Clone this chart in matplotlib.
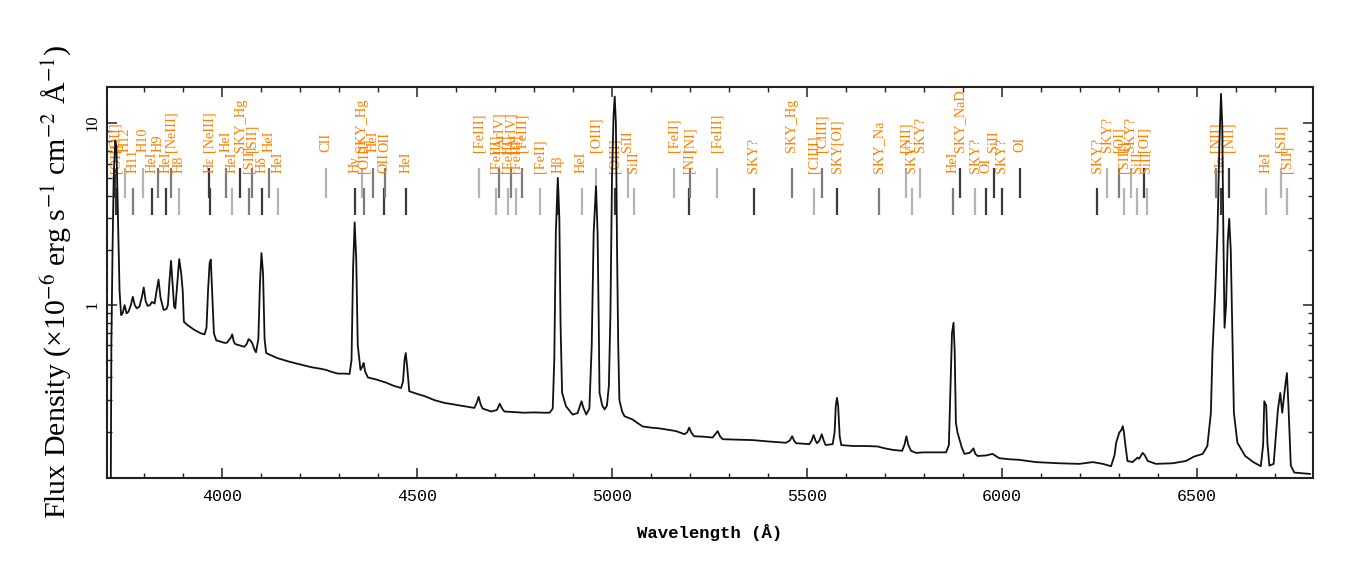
import matplotlib
matplotlib.use("Agg")
import matplotlib.pyplot as plt
import matplotlib.transforms as mtransforms
from matplotlib.ticker import MultipleLocator, LogLocator, NullFormatter, FixedLocator

plt.rcParams['mathtext.fontset'] = 'stix'

# spectrum (wavelength in A, flux in 1e-6 erg/s/cm2/A)
spec_wl = [3714, 3716, 3719, 3722, 3726, 3729, 3733, 3737, 3741, 3745, 3750, 3755,
           3760, 3766, 3771, 3776, 3781, 3788, 3794, 3799, 3804, 3809, 3815, 3820,
           3827, 3832, 3837, 3842, 3850, 3857, 3861, 3865, 3869, 3873, 3877, 3880,
           3885, 3890, 3895, 3899, 3902, 3910, 3929, 3945, 3955, 3960, 3964, 3968,
           3971, 3975, 3979, 3985, 3995, 4006, 4012, 4022, 4026, 4030, 4034, 4045,
           4057, 4063, 4068, 4072, 4077, 4083, 4087, 4093, 4097, 4101, 4105, 4109,
           4113, 4125, 4143, 4170, 4203, 4230, 4254, 4267, 4280, 4297, 4315, 4327,
           4332, 4336, 4340, 4344, 4348, 4355, 4360, 4363, 4367, 4374, 4385, 4395,
           4420, 4440, 4459, 4464, 4468, 4471, 4475, 4480, 4500, 4519, 4545, 4570,
           4600, 4625, 4647, 4653, 4658, 4663, 4668, 4690, 4705, 4712, 4718, 4724,
           4750, 4775, 4800, 4825, 4840, 4848, 4852, 4856, 4861, 4865, 4868, 4872,
           4882, 4899, 4912, 4918, 4922, 4926, 4934, 4942, 4948, 4953, 4959, 4963,
           4966, 4968, 4975, 4981, 4987, 4992, 4996, 5000, 5004, 5007, 5010, 5013,
           5016, 5019, 5026, 5032, 5042, 5053, 5065, 5079, 5100, 5121, 5145, 5164,
           5186, 5193, 5198, 5204, 5211, 5235, 5258, 5265, 5271, 5277, 5284, 5320,
           5361, 5400, 5446, 5456, 5462, 5467, 5472, 5506, 5512, 5517, 5522, 5526,
           5532, 5538, 5543, 5548, 5566, 5571, 5574, 5577, 5580, 5584, 5588, 5617,
           5650, 5681, 5700, 5720, 5744, 5750, 5755, 5760, 5767, 5780, 5800, 5839,
           5857, 5864, 5868, 5872, 5876, 5879, 5882, 5886, 5891, 5897, 5904, 5917,
           5922, 5927, 5932, 5938, 5959, 5976, 5993, 6020, 6045, 6087, 6147, 6199,
           6233, 6259, 6280, 6289, 6293, 6301, 6306, 6310, 6313, 6316, 6322, 6335,
           6348, 6352, 6361, 6366, 6374, 6395, 6438, 6472, 6493, 6515, 6527, 6536,
           6540, 6547, 6553, 6558, 6562, 6565, 6568, 6571, 6575, 6579, 6583, 6587,
           6591, 6595, 6604, 6624, 6645, 6664, 6670, 6673, 6678, 6681, 6686, 6697,
           6708, 6714, 6719, 6726, 6731, 6735, 6741, 6750, 6790]
spec_flux = [0.05, 0.6, 2.0, 5.0, 8.0, 7.5, 3.0, 1.2, 0.88, 0.90, 1.00, 0.90,
             0.92, 1.00, 1.11, 1.00, 0.96, 0.98, 1.10, 1.25, 1.05, 0.99, 1.00, 1.04,
             1.02, 1.20, 1.38, 1.10, 0.94, 0.95, 1.00, 1.35, 1.75, 1.30, 0.98, 0.96,
             1.30, 1.79, 1.50, 1.20, 0.81, 0.78, 0.73, 0.70, 0.69, 0.75, 1.20, 1.70,
             1.78, 1.10, 0.70, 0.64, 0.63, 0.62, 0.62, 0.66, 0.69, 0.63, 0.61, 0.60,
             0.59, 0.61, 0.65, 0.64, 0.62, 0.57, 0.55, 0.65, 1.30, 1.93, 1.50, 0.65,
             0.545, 0.53, 0.51, 0.49, 0.47, 0.455, 0.446, 0.44, 0.43, 0.42, 0.42, 0.418,
             0.50, 1.60, 2.85, 1.80, 0.60, 0.44, 0.46, 0.48, 0.43, 0.40, 0.395, 0.39,
             0.375, 0.36, 0.35, 0.38, 0.50, 0.545, 0.45, 0.336, 0.325, 0.316, 0.30, 0.29,
             0.283, 0.277, 0.272, 0.29, 0.313, 0.285, 0.27, 0.26, 0.265, 0.287, 0.27, 0.26,
             0.258, 0.256, 0.257, 0.256, 0.256, 0.27, 0.50, 2.50, 5.00, 3.00, 0.80, 0.33,
             0.278, 0.25, 0.255, 0.28, 0.296, 0.275, 0.25, 0.27, 0.60, 2.50, 4.50, 2.50,
             0.80, 0.33, 0.28, 0.267, 0.28, 0.36, 0.90, 5.00, 11.0, 14.0, 10.0, 2.00,
             0.60, 0.30, 0.26, 0.245, 0.24, 0.235, 0.225, 0.215, 0.212, 0.21, 0.206, 0.203,
             0.195, 0.20, 0.212, 0.198, 0.19, 0.189, 0.187, 0.195, 0.203, 0.19, 0.183, 0.182,
             0.181, 0.178, 0.175, 0.18, 0.19, 0.18, 0.174, 0.172, 0.18, 0.193, 0.18, 0.174,
             0.18, 0.195, 0.18, 0.17, 0.172, 0.20, 0.28, 0.309, 0.28, 0.19, 0.17, 0.168,
             0.168, 0.167, 0.163, 0.16, 0.158, 0.17, 0.19, 0.17, 0.158, 0.154, 0.155, 0.155,
             0.155, 0.17, 0.35, 0.70, 0.80, 0.55, 0.226, 0.20, 0.183, 0.165, 0.152, 0.154,
             0.158, 0.163, 0.152, 0.148, 0.149, 0.152, 0.144, 0.142, 0.141, 0.137, 0.135, 0.134,
             0.137, 0.134, 0.13, 0.15, 0.175, 0.199, 0.205, 0.216, 0.20, 0.175, 0.139, 0.137,
             0.145, 0.143, 0.154, 0.15, 0.139, 0.134, 0.135, 0.139, 0.147, 0.152, 0.168, 0.256,
             0.545, 1.16, 2.57, 8.0, 14.5, 10.0, 2.5, 0.75, 1.0, 2.2, 2.98, 2.0,
             0.70, 0.256, 0.175, 0.148, 0.137, 0.13, 0.17, 0.296, 0.28, 0.175, 0.131, 0.134,
             0.267, 0.329, 0.256, 0.35, 0.423, 0.278, 0.131, 0.12, 0.118]

# identified lines: wavelength, label, row (0 upper / 1 lower), marker shade
line_wl = [3726.0, 3728.8, 3750.2, 3770.6, 3797.9, 3819.6, 3835.4, 3856.0, 3868.8,
           3889.0, 3967.5, 3970.1, 4009.3, 4026.2, 4046.6, 4068.6, 4076.3, 4101.7,
           4120.8, 4143.8, 4267.2, 4340.5, 4358.3, 4363.2, 4387.9, 4414.9, 4416.9,
           4471.5, 4658.1, 4701.5, 4711.4, 4733.9, 4740.2, 4754.7, 4769.4, 4814.5,
           4861.3, 4921.9, 4958.9, 5006.8, 5041.0, 5056.0, 5158.8, 5197.9, 5200.3,
           5270.4, 5363.0, 5460.7, 5517.7, 5537.9, 5577.3, 5685.0, 5754.6, 5769.0,
           5790.0, 5875.6, 5892.0, 5932.0, 5958.6, 5979.0, 6000.0, 6046.4, 6245.0,
           6270.0, 6300.3, 6312.1, 6330.0, 6347.1, 6363.8, 6371.4, 6548.1, 6562.8,
           6583.4, 6678.2, 6716.4, 6730.8]
line_lab = ['[OII]', '[OII]', 'H12', 'H11', 'H10', 'HeI', 'H9', 'HeI', '[NeIII]',
            'H8', '[NeIII]', 'Hε', 'HeI', 'HeI', 'SKY_Hg', '[SII]', '[SII]', 'Hδ',
            'HeI', 'HeI', 'CII', 'Hγ', 'SKY_Hg', '[OIII]', 'HeI', 'OII', 'OII',
            'HeI', '[FeIII]', '[FeIII]', '[ArIV]', '[FeIII]', '[ArIV]', '[FeIII]', '[FeIII]', '[FeII]',
            'Hβ', 'HeI', '[OIII]', '[OIII]', 'SiII', 'SiII', '[FeII]', '[NI]', '[NI]',
            '[FeIII]', 'SKY?', 'SKY_Hg', '[ClIII]', '[ClIII]', 'SKY[OI]', 'SKY_Na', '[NII]', 'SKY?',
            'SKY?', 'HeI', 'SKY_NaD', 'SKY?', 'OI', 'SiII', 'SKY?', 'OI', 'SKY?',
            'SKY?', '[OI]', '[SIII]', 'SKY?', 'SiII', '[OI]', 'SiII', '[NII]', 'Hα',
            '[NII]', 'HeI', '[SII]', '[SII]']
line_row = [0, 1, 0, 1, 0, 1, 0, 1, 0,
            1, 0, 1, 0, 1, 0, 1, 0, 1,
            0, 1, 0, 1, 0, 1, 0, 1, 0,
            1, 0, 1, 0, 1, 0, 1, 0, 1,
            1, 1, 0, 1, 0, 1, 0, 1, 0,
            0, 1, 0, 1, 0, 1, 1, 0, 1,
            0, 1, 0, 1, 1, 0, 1, 0, 1,
            0, 0, 1, 0, 1, 0, 1, 0, 1,
            0, 1, 0, 1]
line_shade = ['d', 'd', 'l', 'm', 'l', 'd', 'm', 'd', 'm',
              'l', 'd', 'd', 'm', 'l', 'd', 'm', 'm', 'd',
              'm', 'l', 'l', 'd', 'l', 'm', 'm', 'd', 'm',
              'd', 'l', 'l', 'm', 'l', 'm', 'l', 'm', 'l',
              'd', 'l', 'l', 'd', 'l', 'l', 'l', 'd', 'm',
              'l', 'd', 'm', 'l', 'm', 'd', 'm', 'l', 'l',
              'l', 'm', 'd', 'l', 'd', 'd', 'd', 'd', 'd',
              'l', 'm', 'l', 'l', 'l', 'd', 'l', 'm', 'd',
              'd', 'l', 'l', 'l']
shade_col = {'l': '#b4b4b4', 'm': '#7c7c7c', 'd': '#3a3a3a'}

fig = plt.figure(figsize=(13.57, 5.74), dpi=100)
ax = fig.add_axes([0.0789, 0.1672, 0.8887, 0.6812])

trans = mtransforms.blended_transform_factory(ax.transData, ax.transAxes)
tick_y = [(0.716, 0.793), (0.673, 0.742)]
lab_y = [0.834, 0.780]
for wl, lab, row, sh in zip(line_wl, line_lab, line_row, line_shade):
    y0, y1 = tick_y[row]
    ax.plot([wl, wl], [y0, y1], color=shade_col[sh], lw=1.6, transform=trans,
            solid_capstyle='butt', zorder=2)
    ax.text(wl, lab_y[row], lab, transform=trans, rotation=90, ha='center',
            va='bottom', color='#ff8000', fontsize=10.3, family='Liberation Serif',
            zorder=3)

ax.plot(spec_wl, spec_flux, color='#111111', lw=1.3, zorder=4)

ax.set_yscale('log')
ax.set_xlim(3705, 6798)
ax.set_ylim(0.112, 15.8)

ax.xaxis.set_major_locator(MultipleLocator(500))
ax.xaxis.set_minor_locator(MultipleLocator(100))
ax.yaxis.set_major_locator(FixedLocator([1, 10]))
ax.yaxis.set_major_formatter(plt.FuncFormatter(lambda v, p: '%g' % v))
ax.yaxis.set_minor_locator(LogLocator(base=10, subs=range(2, 10)))
ax.yaxis.set_minor_formatter(NullFormatter())

ax.tick_params(which='both', direction='in', top=True, right=True, color='#222222')
ax.tick_params(which='major', length=7, width=1.1)
ax.tick_params(which='minor', length=3.5, width=1.0)
ax.tick_params(axis='x', pad=8)
ax.tick_params(axis='y', pad=5, labelrotation=90)
for t in ax.get_xticklabels():
    t.set_family('Liberation Mono')
    t.set_fontsize(12)
for t in ax.get_yticklabels():
    t.set_family('Liberation Serif')
    t.set_fontsize(12)
    t.set_va('center')

for s in ax.spines.values():
    s.set_linewidth(1.5)
    s.set_color('#222222')

ax.set_xlabel('Wavelength (Å)', family='Liberation Mono', fontweight='bold',
              fontsize=12.5, labelpad=14)
ax.set_ylabel('Flux Density (×10$^{\\mathrm{-6}}$ erg s$^{\\mathrm{-1}}$ cm$^{\\mathrm{-2}}$ Å$^{\\mathrm{-1}}$)',
              family='Liberation Serif', fontsize=21.5, labelpad=7)

fig.savefig('out.png', dpi=100)
